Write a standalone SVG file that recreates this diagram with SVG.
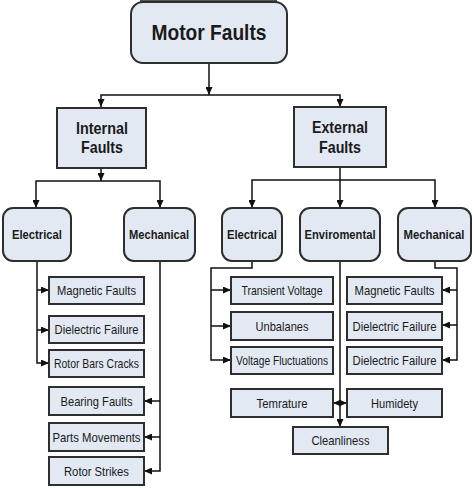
<svg xmlns="http://www.w3.org/2000/svg" width="474" height="488" viewBox="0 0 474 488">
<style>
.box{fill:#e2e9f3;stroke:#2e2e2e;stroke-width:2}
.t{font-family:"Liberation Sans",Arial,sans-serif;fill:#1a1a1a;text-anchor:middle}
.b{font-weight:bold}
.leaf{font-size:13px}
.c{fill:none;stroke:#111;stroke-width:1.5}
</style>
<defs>
<marker id="ah" markerUnits="userSpaceOnUse" markerWidth="8" markerHeight="7" refX="8" refY="3.5" orient="auto">
<path d="M0,0 L8,3.5 L0,7 z" fill="#111"/>
</marker>
</defs>
<rect x="140" y="0" width="137" height="3" fill="#555"/>
<g id="connectors">
<path class="c" d="M209,63 V95" marker-end="url(#ah)"/>
<path class="c" d="M209,95 H101 V107" marker-end="url(#ah)"/>
<path class="c" d="M209,95 H340 V107" marker-end="url(#ah)"/>
<path class="c" d="M101,168 V181" marker-end="url(#ah)"/>
<path class="c" d="M101,181 H36 V208" marker-end="url(#ah)"/>
<path class="c" d="M101,181 H160 V208" marker-end="url(#ah)"/>
<path class="c" d="M340,167 V208" marker-end="url(#ah)"/>
<path class="c" d="M340,180 H252 V208" marker-end="url(#ah)"/>
<path class="c" d="M340,180 H435 V208" marker-end="url(#ah)"/>
<path class="c" d="M37,261 V363 H49" marker-end="url(#ah)"/>
<path class="c" d="M37,290 H49" marker-end="url(#ah)"/>
<path class="c" d="M37,330 H49" marker-end="url(#ah)"/>
<path class="c" d="M160,261 V471 H144" marker-end="url(#ah)"/>
<path class="c" d="M160,401 H144" marker-end="url(#ah)"/>
<path class="c" d="M160,437 H144" marker-end="url(#ah)"/>
<path class="c" d="M252,261 V268 H211 V360 H231" marker-end="url(#ah)"/>
<path class="c" d="M211,290 H231" marker-end="url(#ah)"/>
<path class="c" d="M211,326 H231" marker-end="url(#ah)"/>
<path class="c" d="M340,261 V427" marker-end="url(#ah)"/>
<path class="c" d="M340,403 H333" marker-end="url(#ah)"/>
<path class="c" d="M340,403 H347" marker-end="url(#ah)"/>
<path class="c" d="M435,261 V268 H457 V360 H442" marker-end="url(#ah)"/>
<path class="c" d="M457,290 H442" marker-end="url(#ah)"/>
<path class="c" d="M457,325 H442" marker-end="url(#ah)"/>
</g>
<g id="motor-faults">
<rect class="box" x="131" y="2" width="156" height="61" rx="12"/>
<text class="t b" x="209" y="40" font-size="22" textLength="115" lengthAdjust="spacingAndGlyphs">Motor Faults</text>
</g>
<g id="internal-faults">
<rect class="box" x="57" y="108" width="89" height="60"/>
<text class="t b" x="102" y="134" font-size="17" textLength="52" lengthAdjust="spacingAndGlyphs">Internal</text>
<text class="t b" x="102" y="153" font-size="17" textLength="42" lengthAdjust="spacingAndGlyphs">Faults</text>
</g>
<g id="external-faults">
<rect class="box" x="294" y="107" width="92" height="60"/>
<text class="t b" x="340" y="133" font-size="17" textLength="56" lengthAdjust="spacingAndGlyphs">External</text>
<text class="t b" x="340" y="153" font-size="17" textLength="42" lengthAdjust="spacingAndGlyphs">Faults</text>
</g>
<g id="int-electrical">
<rect class="box" x="3" y="208" width="68" height="53" rx="10"/>
<text class="t b" x="37" y="239" font-size="13.5" textLength="50" lengthAdjust="spacingAndGlyphs">Electrical</text>
</g>
<g id="int-mechanical">
<rect class="box" x="124" y="208" width="71" height="53" rx="10"/>
<text class="t b" x="159" y="239" font-size="13" textLength="60" lengthAdjust="spacingAndGlyphs">Mechanical</text>
</g>
<g id="ext-electrical">
<rect class="box" x="222" y="208" width="60" height="53" rx="10"/>
<text class="t b" x="252" y="239" font-size="13.5" textLength="50" lengthAdjust="spacingAndGlyphs">Electrical</text>
</g>
<g id="ext-enviromental">
<rect class="box" x="300" y="208" width="80" height="53" rx="10"/>
<text class="t b" x="340" y="239" font-size="12.5" textLength="71" lengthAdjust="spacingAndGlyphs">Enviromental</text>
</g>
<g id="ext-mechanical">
<rect class="box" x="398" y="208" width="73" height="53" rx="10"/>
<text class="t b" x="434" y="239" font-size="13" textLength="61" lengthAdjust="spacingAndGlyphs">Mechanical</text>
</g>
<g id="magnetic-faults-1">
<rect class="box" x="49" y="277" width="95" height="27"/>
<text class="t leaf" x="96.5" y="295" textLength="79" lengthAdjust="spacingAndGlyphs">Magnetic Faults</text>
</g>
<g id="dielectric-failure-1">
<rect class="box" x="49" y="316" width="95" height="27"/>
<text class="t leaf" x="96.5" y="334" textLength="84" lengthAdjust="spacingAndGlyphs">Dielectric Failure</text>
</g>
<g id="rotor-bars-cracks">
<rect class="box" x="49" y="350" width="95" height="27"/>
<text class="t leaf" x="96.5" y="368" textLength="85" lengthAdjust="spacingAndGlyphs">Rotor Bars Cracks</text>
</g>
<g id="bearing-faults">
<rect class="box" x="49" y="387" width="95" height="28"/>
<text class="t leaf" x="96.5" y="405.5" textLength="72" lengthAdjust="spacingAndGlyphs">Bearing Faults</text>
</g>
<g id="parts-movements">
<rect class="box" x="49" y="423" width="95" height="28"/>
<text class="t leaf" x="96.5" y="441.5" textLength="88" lengthAdjust="spacingAndGlyphs">Parts Movements</text>
</g>
<g id="rotor-strikes">
<rect class="box" x="49" y="457" width="95" height="28"/>
<text class="t leaf" x="96.5" y="475.5" textLength="65" lengthAdjust="spacingAndGlyphs">Rotor Strikes</text>
</g>
<g id="transient-voltage">
<rect class="box" x="231" y="277" width="102" height="27"/>
<text class="t leaf" x="282" y="295" textLength="81" lengthAdjust="spacingAndGlyphs">Transient Voltage</text>
</g>
<g id="unbalanes">
<rect class="box" x="231" y="312" width="102" height="28"/>
<text class="t leaf" x="282" y="330.5" textLength="53" lengthAdjust="spacingAndGlyphs">Unbalanes</text>
</g>
<g id="voltage-fluctuations">
<rect class="box" x="231" y="347" width="102" height="27"/>
<text class="t leaf" x="282" y="365" font-size="11.5" textLength="92" lengthAdjust="spacingAndGlyphs">Voltage Fluctuations</text>
</g>
<g id="temrature">
<rect class="box" x="231" y="389" width="102" height="28"/>
<text class="t leaf" x="282" y="407.5" textLength="51" lengthAdjust="spacingAndGlyphs">Temrature</text>
</g>
<g id="magnetic-faults-2">
<rect class="box" x="347" y="277" width="95" height="27"/>
<text class="t leaf" x="394.5" y="295" textLength="80" lengthAdjust="spacingAndGlyphs">Magnetic Faults</text>
</g>
<g id="dielectric-failure-2">
<rect class="box" x="347" y="312" width="95" height="28"/>
<text class="t leaf" x="394.5" y="330.5" textLength="84" lengthAdjust="spacingAndGlyphs">Dielectric Failure</text>
</g>
<g id="dielectric-failure-3">
<rect class="box" x="347" y="347" width="95" height="27"/>
<text class="t leaf" x="394.5" y="365" textLength="84" lengthAdjust="spacingAndGlyphs">Dielectric Failure</text>
</g>
<g id="humidety">
<rect class="box" x="347" y="389" width="95" height="28"/>
<text class="t leaf" x="394.5" y="407.5" textLength="47" lengthAdjust="spacingAndGlyphs">Humidety</text>
</g>
<g id="cleanliness">
<rect class="box" x="293" y="427" width="95" height="27"/>
<text class="t leaf" x="340.5" y="445" textLength="58" lengthAdjust="spacingAndGlyphs">Cleanliness</text>
</g>
</svg>
